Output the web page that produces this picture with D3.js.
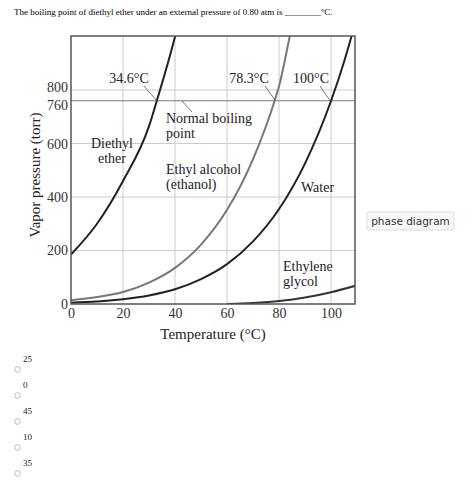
<!DOCTYPE html>
<html><head><meta charset="utf-8">
<script src="https://cdn.jsdelivr.net/npm/d3@7"></script>
<style>body{margin:0;background:#fff;font-family:"Liberation Serif",serif}</style>
</head><body>
<svg id="c" width="474" height="495"></svg>
<script>
const xTicks=[0,20,40,60,80,100];
const yTicks=[0,200,400,600,760,800];
const ether=[[0,185],[10,300],[20,460],[30,665],[33,760],[40,1000],[42,1080]];
const ethanol=[[0,14],[10,26],[20,45],[30,80],[40,135],[50,222],[60,352],[70,542],[78.3,760],[80,815],[85,1040],[87,1120]];
const water=[[0,5],[10,9],[20,18],[30,32],[40,55],[50,93],[60,149],[70,234],[80,355],[90,526],[100,760],[105,906],[110,1075]];
const glycol=[[60,0],[70,4],[80,11],[90,24],[100,44],[110,70]];
const options=["25","0","45","10","35"];

const svg=d3.select("#c");
svg.append("text").attr("x",14).attr("y",15).attr("font-size",9).attr("font-family","Liberation Serif")
 .text("The boiling point of diethyl ether under an external pressure of 0.80 atm is ________°C.");
const L=71,R=355,T=36,B=304;
const x=d3.scaleLinear().domain([0,109.2]).range([L,R]);
const y=d3.scaleLinear().domain([0,1002]).range([B,T]);
const g=svg.append("g");
[20,40,60,80,100].forEach(v=>g.append("line").attr("x1",x(v)).attr("x2",x(v)).attr("y1",T).attr("y2",B).attr("stroke","#ccc").attr("stroke-width",1));
[200,400,600,800].forEach(v=>g.append("line").attr("x1",L).attr("x2",R).attr("y1",y(v)).attr("y2",y(v)).attr("stroke","#ccc").attr("stroke-width",1));
g.append("line").attr("x1",L).attr("x2",R).attr("y1",y(760)).attr("y2",y(760)).attr("stroke","#777").attr("stroke-width",1.2);
svg.append("clipPath").attr("id","cp").append("rect").attr("x",L).attr("y",T).attr("width",R-L).attr("height",B-T);
const line=d3.line().x(d=>x(d[0])).y(d=>y(d[1])).curve(d3.curveMonotoneX);
const cg=svg.append("g").attr("clip-path","url(#cp)");
[[ether,"#222"],[ethanol,"#777"],[water,"#222"],[glycol,"#333"]].forEach(([d,c])=>
 cg.append("path").attr("d",line(d)).attr("fill","none").attr("stroke",c).attr("stroke-width",2));
svg.append("rect").attr("x",L).attr("y",T).attr("width",R-L).attr("height",B-T).attr("fill","none").attr("stroke","#555").attr("stroke-width",1.5);
const xa=svg.append("g").attr("transform",`translate(0,${B})`).call(d3.axisBottom(x).tickValues(xTicks).tickSize(0).tickPadding(4));
const ya=svg.append("g").attr("transform",`translate(${L},0)`).call(d3.axisLeft(y).tickValues(yTicks).tickSize(0).tickPadding(3));
[xa,ya].forEach(a=>{a.select(".domain").remove();a.selectAll("text").attr("font-size",14).attr("font-family","Liberation Serif").attr("fill","#333");});
ya.selectAll("text").attr("dy",d=>d==800?"0.1em":d==760?"0.6em":"0.32em");
svg.append("text").attr("x",(L+R)/2).attr("y",339).attr("text-anchor","middle").attr("font-size",15).attr("fill","#222").text("Temperature (°C)");
svg.append("text").attr("transform",`translate(40,${(T+B)/2+5}) rotate(-90)`).attr("text-anchor","middle").attr("font-size",15).attr("fill","#222").text("Vapor pressure (torr)");
function lab(t,xx,yy,a){const e=svg.append("text").attr("x",xx).attr("y",yy).attr("font-size",14).attr("fill","#222").attr("text-anchor",a||"start");
 t.split("\n").forEach((s,i)=>e.append("tspan").attr("x",xx).attr("dy",i?15:0).text(s));}
lab("34.6°C",129,83,"middle");lab("78.3°C",249,83,"middle");lab("100°C",311,83,"middle");
lab("Normal boiling\npoint",166,123);lab("Diethyl\nether",112,148,"middle");
lab("Ethyl alcohol\n(ethanol)",166,174);lab("Water",301,192);lab("Ethylene\nglycol",283,271);
function ld(x1,y1,v){svg.append("line").attr("x1",x1).attr("y1",y1).attr("x2",x(v)).attr("y2",y(760)).attr("stroke","#555").attr("stroke-width",0.8);}
ld(144,86,33);ld(265,86,78.6);ld(320,86,99.6);
svg.append("line").attr("x1",182).attr("y1",101).attr("x2",192).attr("y2",112).attr("stroke","#555").attr("stroke-width",0.8);
const b=svg.append("g");
b.append("rect").attr("x",367).attr("y",212).attr("width",87).attr("height",18).attr("rx",2).attr("fill","#f7f7f7").attr("stroke","#ddd");
b.append("text").attr("x",410.5).attr("y",225).attr("text-anchor","middle").attr("font-size",10.5).attr("font-family","DejaVu Sans").attr("fill","#333").text("phase diagram");
options.forEach((o,i)=>{const yy=362+i*26;
 svg.append("text").attr("x",23).attr("y",yy).attr("font-size",9).attr("fill","#222").text(o);
 svg.append("circle").attr("cx",17.5).attr("cy",yy+7.5).attr("r",2.8).attr("fill","#fff").attr("stroke","#bbb");});
</script></body></html>
